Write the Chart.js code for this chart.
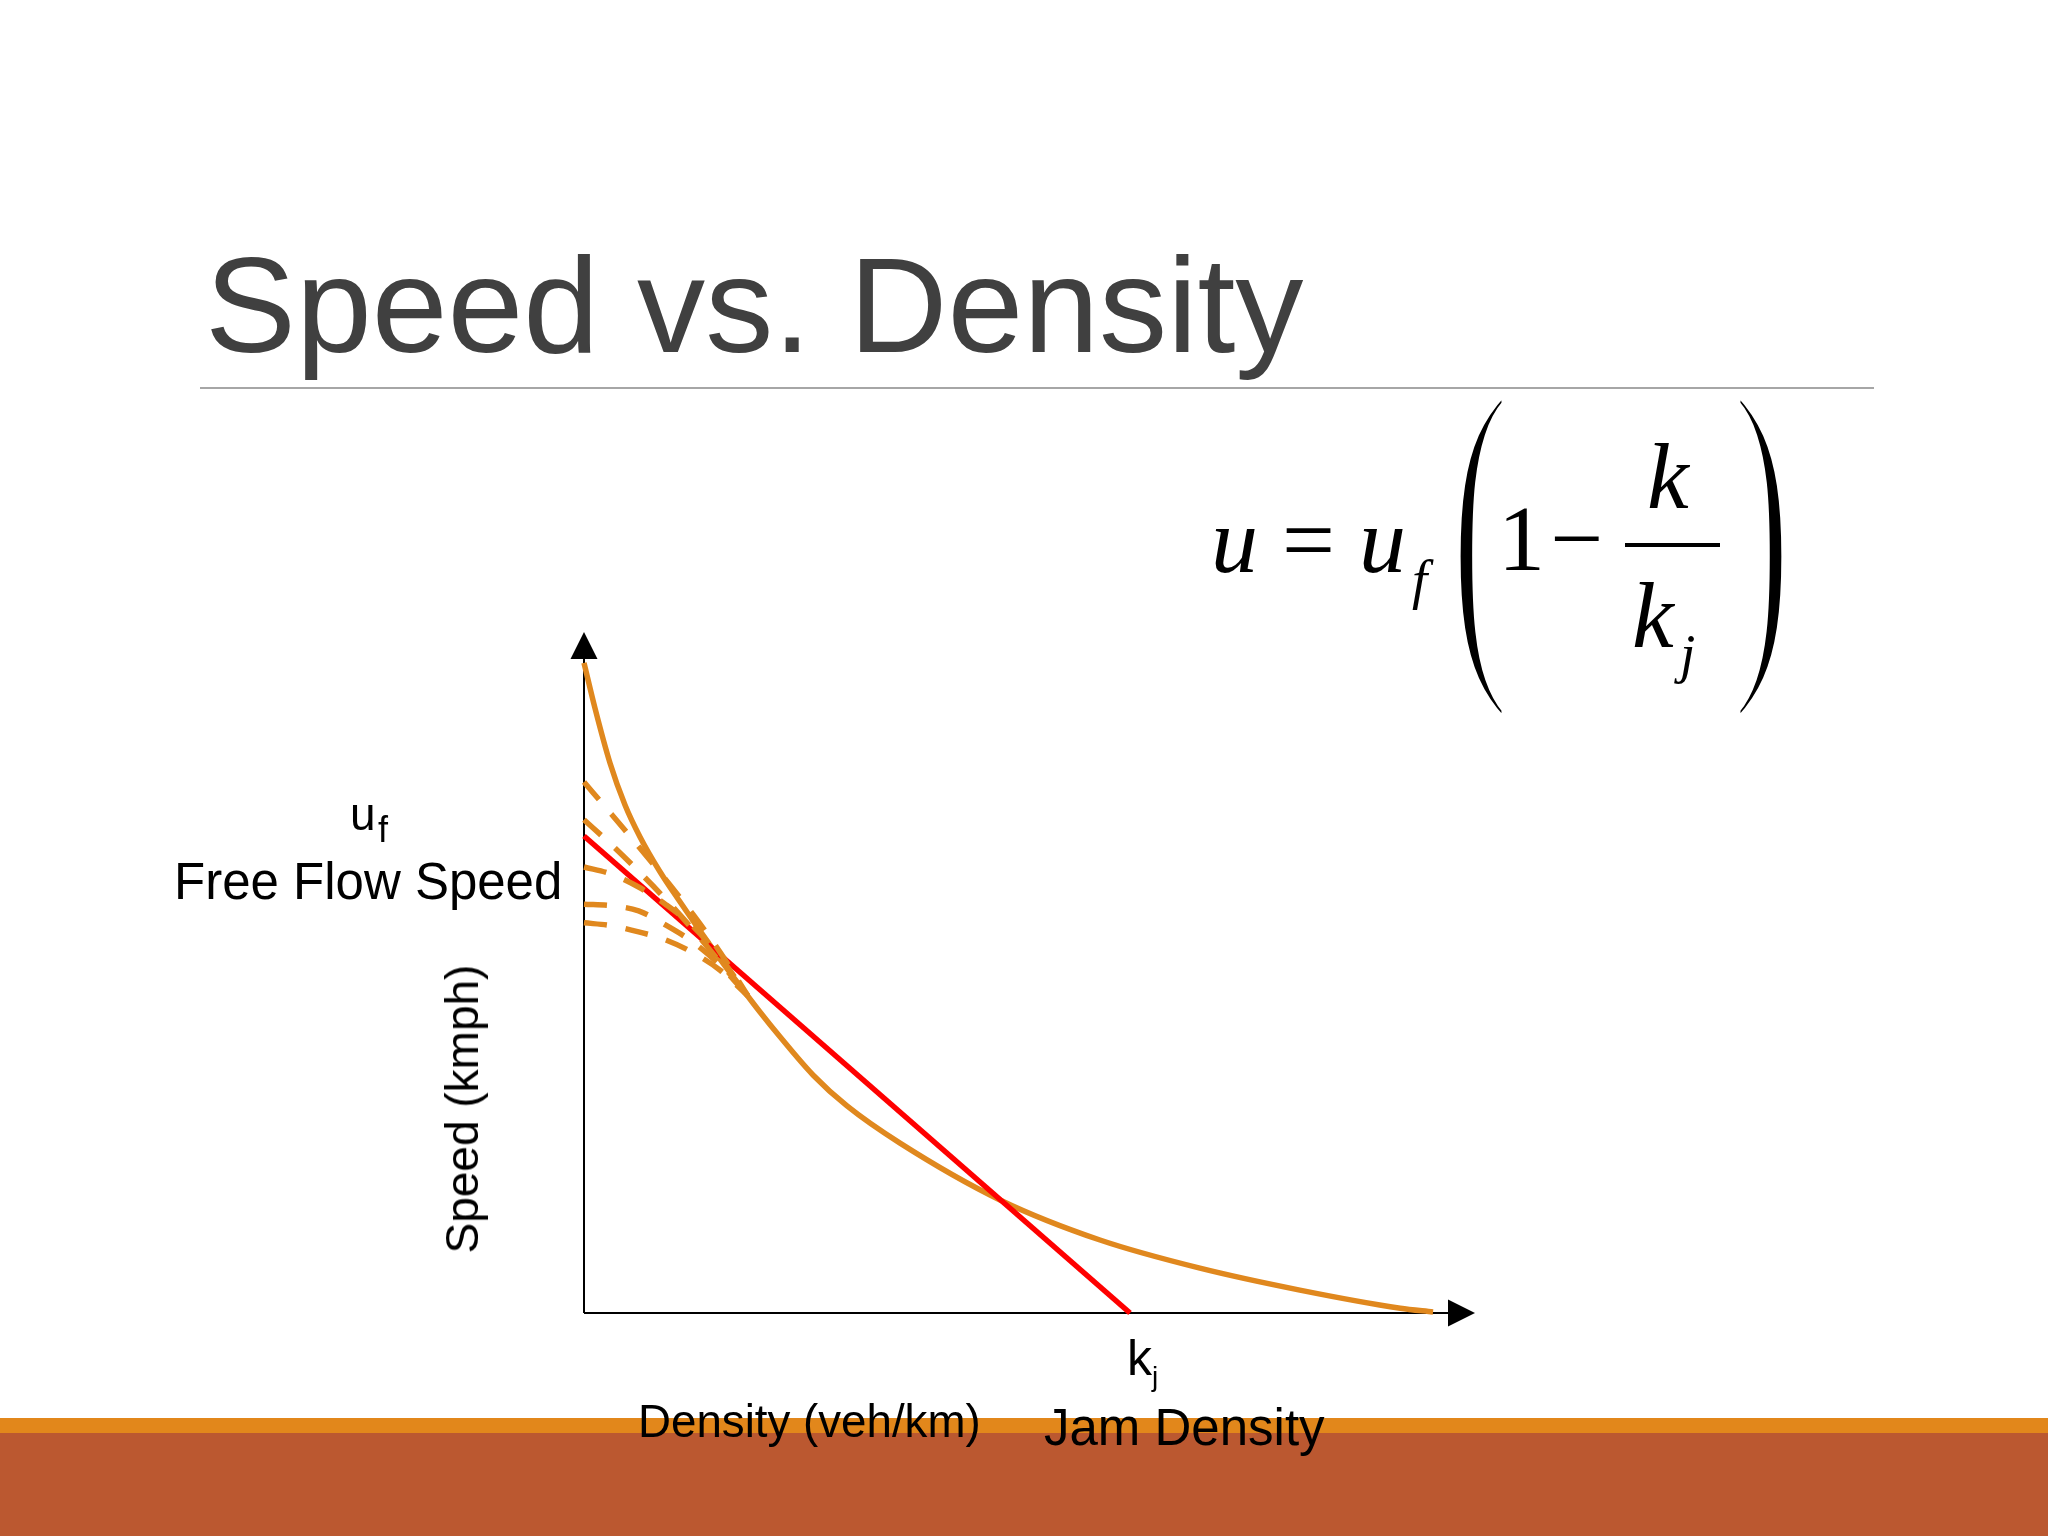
<!DOCTYPE html>
<html>
<head>
<meta charset="utf-8">
<script src="https://cdn.jsdelivr.net/npm/chart.js@4.4.1/dist/chart.umd.min.js"></script>
<style>
  html, body { margin: 0; padding: 0; background: #fff; overflow: hidden; }
  #page { position: relative; width: 2048px; height: 1536px; }
  #myChart { position: absolute; left: 0; top: 0; z-index: 1; }
  .band1 { position: absolute; left: 0; top: 1418px; width: 2048px; height: 15px; background: #e2871b; }
  .band2 { position: absolute; left: 0; top: 1433px; width: 2048px; height: 103px; background: #bb5830; }
  .rule { position: absolute; left: 200px; top: 387px; width: 1674px; height: 2px; background: #a6a6a6; z-index: 3; }
  .fbar { position: absolute; left: 1625px; top: 543px; width: 95px; height: 4px; background: #000; z-index: 2; }
  .txt { position: absolute; white-space: nowrap; z-index: 2; color: #000; }
  .paren { -webkit-text-stroke: 3px #fff; }
</style>
</head>
<body>
<div id="page">
  <div class="band1"></div>
  <div class="band2"></div>
  <div class="rule"></div>
  <div class="fbar"></div>
  <canvas id="myChart" width="2048" height="1536"></canvas>
</div>
<script>
// main curve (density k, speed u)
const curveK = [0, 2.01, 4.76, 7.51, 10.26, 13.92, 17.58, 21.25, 24.91, 28.57, 32.23, 35.9, 41.94, 48.17, 57.88, 76.19, 94.5, 112.8, 131.1, 149.5, 155.5];
const curveU = [136.3, 126.8, 115.3, 106.5, 99.8, 92.5, 86.2, 80.1, 74.2, 68.6, 63.1, 57.9, 49.9, 43.4, 35.6, 23.7, 15.3, 9.4, 4.8, 1.0, 0.2];

// linear greenshields line: uf = 100, kj = 100
const lineK = [0, 100];
const lineU = [100, 0];

// dashed curves
const dashK = [0, 5, 10, 15, 20, 25, 30];
const dashA = [111.3, 104.6, 97.8, 90.8, 83.5, 75.5, 66.5];
const dashB = [103.4, 98.2, 92.6, 86.7, 80.3, 73.4, 66.5];
const dashC = [93.5, 92.0, 89.3, 85.6, 81.0, 74.5, 66.5];
const dashD = [85.7, 85.4, 84.3, 81.3, 77.7, 72.8, 66.5];
const dashE = [81.8, 81.2, 79.9, 78.2, 75.5, 71.8, 66.5];

const xMax = 158.24;
const yMax = 137.1;

const orange = 'rgb(224, 136, 30)';
const page = document.getElementById('page');

function pts(xs, ys){
    return xs.map((x, i) => ({x: x, y: ys[i]}));
}

// place text by its left edge and baseline
function label(text, x, base, size, opts){
    opts = opts || {};
    const d = document.createElement('div');
    d.className = 'txt';
    d.textContent = text;
    const serif = opts.serif;
    d.style.fontFamily = serif ? '"Liberation Serif", "Times New Roman", serif' : '"Liberation Sans", Arial, sans-serif';
    d.style.fontSize = size + 'px';
    d.style.lineHeight = size + 'px';
    if(opts.italic) d.style.fontStyle = 'italic';
    if(opts.color) d.style.color = opts.color;
    const asc = serif ? 0.8375 : 0.8465;
    d.style.left = x + 'px';
    d.style.top = (base - size * asc) + 'px';
    if(opts.transform){
        d.style.transformOrigin = '0 0';
        d.style.transform = opts.transform;
    }
    if(opts.cls) d.classList.add(opts.cls);
    page.appendChild(d);
    return d;
}

// title
label('Speed vs. Density', 205, 352, 136.3, {color: '#404040'});

// formula u = uf (1 - k/kj)
label('u', 1211, 572, 94, {serif: true, italic: true});
label('=', 1282, 571, 94, {serif: true});
label('u', 1359, 572, 94, {serif: true, italic: true});
label('f', 1412, 598, 55, {serif: true, italic: true});
label('(', 1450, 341 + 100 * 0.8375, 100, {serif: true, transform: 'scale(1.8, 3.66)', cls: 'paren'});
label('1', 1498, 570, 94, {serif: true});
label('\u2212', 1550, 570, 94, {serif: true});
label('k', 1647, 508, 94, {serif: true, italic: true});
label('k', 1632, 647, 94, {serif: true, italic: true});
label('j', 1680, 672, 55, {serif: true, italic: true});
label(')', 1732, 341 + 100 * 0.8375, 100, {serif: true, transform: 'scale(1.8, 3.66)', cls: 'paren'});

// axis annotations
label('u', 350, 830, 46);
label('f', 378, 842, 36);
label('Free Flow Speed', 174, 899, 51);
label('k', 1127, 1375, 50);
label('j', 1152, 1387, 28);
label('Jam Density', 1044, 1445, 51);
label('Density (veh/km)', 638, 1438, 45.7);

const yLab = document.createElement('div');
yLab.className = 'txt';
yLab.textContent = 'Speed (kmph)';
yLab.style.fontFamily = '"Liberation Sans", Arial, sans-serif';
yLab.style.fontSize = '46px';
yLab.style.lineHeight = '46px';
yLab.style.left = '462px';
yLab.style.top = '1109px';
yLab.style.transform = 'translate(-50%, -50%) rotate(-90deg)';
page.appendChild(yLab);

// axes with arrow heads
const axesArrows = {
    id: 'axesArrows',
    beforeDatasetsDraw(chart){
        const {ctx, chartArea} = chart;
        const l = chartArea.left, b = chartArea.bottom, t = chartArea.top, r = chartArea.right;
        ctx.save();
        ctx.strokeStyle = '#000';
        ctx.lineWidth = 2;
        ctx.beginPath();
        ctx.moveTo(l, b);
        ctx.lineTo(l, t);
        ctx.moveTo(l, b);
        ctx.lineTo(r, b);
        ctx.stroke();
        ctx.fillStyle = '#000';
        ctx.beginPath();
        ctx.moveTo(l, t - 27);
        ctx.lineTo(l - 13.5, t);
        ctx.lineTo(l + 13.5, t);
        ctx.closePath();
        ctx.fill();
        ctx.beginPath();
        ctx.moveTo(r + 27, b);
        ctx.lineTo(r, b - 13.5);
        ctx.lineTo(r, b + 13.5);
        ctx.closePath();
        ctx.fill();
        ctx.restore();
    }
};

function dashSet(ys){
    return {
        data: pts(dashK, ys),
        borderColor: orange,
        borderWidth: 5.5,
        borderDash: [23, 19],
        cubicInterpolationMode: 'monotone',
        pointRadius: 0,
        clip: false,
        order: 0
    };
}

const ctx = document.getElementById('myChart').getContext('2d');
const myChart = new Chart(ctx, {
    type: 'line',
    data: {
        datasets: [
            {
                data: pts(curveK, curveU),
                borderColor: orange,
                borderWidth: 5.5,
                cubicInterpolationMode: 'monotone',
                pointRadius: 0,
                clip: false,
                order: 2
            },
            {
                data: pts(lineK, lineU),
                borderColor: '#ff0000',
                borderWidth: 5.5,
                pointRadius: 0,
                clip: false,
                order: 1
            },
            dashSet(dashA),
            dashSet(dashB),
            dashSet(dashC),
            dashSet(dashD),
            dashSet(dashE)
        ]
    },
    options: {
        responsive: false,
        animation: false,
        devicePixelRatio: 1,
        layout: { padding: { left: 584, right: 600, top: 659, bottom: 223 } },
        scales: {
            x: { type: 'linear', min: 0, max: xMax, display: false },
            y: { type: 'linear', min: 0, max: yMax, display: false }
        },
        plugins: {
            legend: { display: false },
            tooltip: { enabled: false }
        }
    },
    plugins: [axesArrows]
});
</script>
</body>
</html>
